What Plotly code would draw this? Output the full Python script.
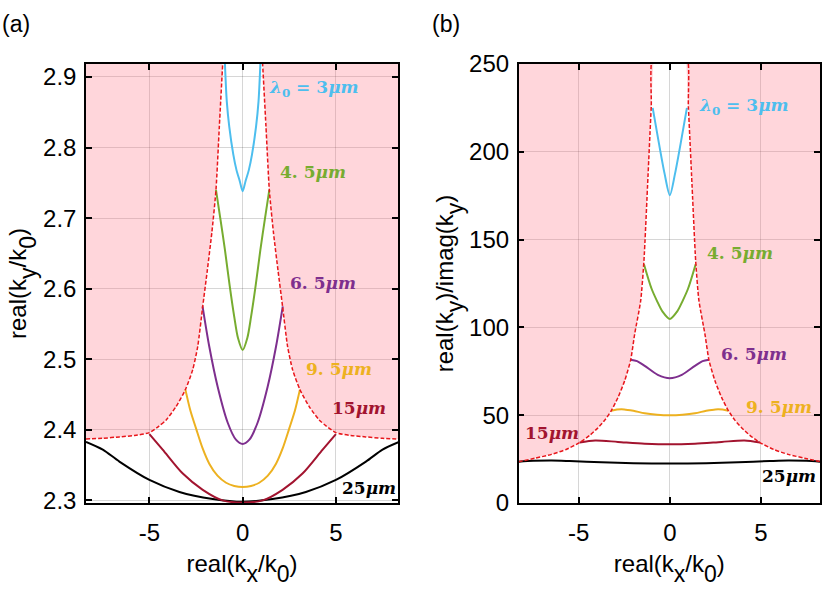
import plotly.graph_objects as go

# ---------------- Panel (a) data: real(ky/k0) vs real(kx/k0) ----------------
a_bnd_x = [-8.4, -7.5, -6.6, -5.8, -5.0, -4.5, -4.1, -3.57, -3.07, -2.68, -2.41, -2.14, -1.9, -1.65, -1.43, -1.25, -1.07, -0.98,
           0.98, 1.07, 1.25, 1.43, 1.65, 1.9, 2.14, 2.41, 2.68, 3.07, 3.57, 4.1, 4.5, 5.0, 5.8, 6.6, 7.5, 8.4]
a_bnd_y = [2.387, 2.388, 2.390, 2.392, 2.396, 2.405, 2.414, 2.433, 2.457, 2.485, 2.518, 2.575, 2.625, 2.68, 2.74, 2.83, 2.919, 2.965,
           2.965, 2.919, 2.83, 2.74, 2.68, 2.625, 2.575, 2.518, 2.485, 2.457, 2.433, 2.414, 2.405, 2.396, 2.392, 2.390, 2.388, 2.387]

a_3_x = [-0.96, -0.85, -0.72, -0.5, -0.33, -0.15, 0.0, 0.15, 0.33, 0.5, 0.72, 0.85, 0.96]
a_3_y = [2.925, 2.865, 2.83, 2.79, 2.768, 2.752, 2.738, 2.752, 2.768, 2.79, 2.83, 2.865, 2.925]

a_45_x = [-1.43, -1.2, -0.95, -0.7, -0.45, -0.25, 0.0, 0.25, 0.45, 0.7, 0.95, 1.2, 1.43]
a_45_y = [2.74, 2.70, 2.655, 2.605, 2.56, 2.53, 2.513, 2.53, 2.56, 2.605, 2.655, 2.70, 2.74]

a_65_x = [-2.15, -1.79, -1.34, -0.8, -0.36, 0.0, 0.36, 0.8, 1.34, 1.79, 2.15]
a_65_y = [2.575, 2.518, 2.461, 2.41, 2.386, 2.38, 2.386, 2.41, 2.461, 2.518, 2.575]

a_95_x = [-3.07, -2.8, -2.5, -2.15, -1.79, -1.35, -0.89, -0.45, 0.0, 0.45, 0.89, 1.35, 1.79, 2.15, 2.5, 2.8, 3.07]
a_95_y = [2.457, 2.427, 2.402, 2.374, 2.352, 2.335, 2.325, 2.3205, 2.319, 2.3205, 2.325, 2.335, 2.352, 2.374, 2.402, 2.427, 2.457]

a_15_x = [-5.0, -4.29, -3.21, -2.14, -1.07, 0.0, 1.07, 2.14, 3.21, 4.29, 5.0]
a_15_y = [2.394, 2.372, 2.338, 2.315, 2.30, 2.297, 2.30, 2.315, 2.338, 2.372, 2.394]

a_25_x = [-8.4, -7.5, -6.61, -5.0, -3.39, -1.6, 0.0, 1.6, 3.39, 5.0, 6.61, 7.5, 8.4]
a_25_y = [2.383, 2.372, 2.355, 2.329, 2.312, 2.302, 2.298, 2.302, 2.312, 2.329, 2.355, 2.372, 2.383]

# ---------------- Panel (b) data: real(ky)/imag(ky) vs real(kx/k0) ----------------
b_bnd_x = [-8.3, -7.4, -6.5, -5.7, -4.95, -4.4, -3.94, -3.55, -3.22, -2.85, -2.48, -2.15, -1.93, -1.6, -1.42, -1.2, -1.02, -0.88,
           0.88, 1.02, 1.2, 1.42, 1.6, 1.93, 2.15, 2.48, 2.85, 3.22, 3.55, 3.94, 4.4, 4.95, 5.7, 6.5, 7.4, 8.3]
b_bnd_y = [23.5, 25.5, 27.7, 30.5, 34.4, 38.5, 42.9, 47.5, 52.5, 60.0, 69.6, 81.4, 96.2, 115.2, 138.0, 185.7, 225.7, 256.0,
           256.0, 225.7, 185.7, 138.0, 115.2, 96.2, 81.4, 69.6, 60.0, 52.5, 47.5, 42.9, 38.5, 34.4, 30.5, 27.7, 25.5, 23.5]

b_3_x = [-0.94, -0.66, -0.29, 0.0, 0.29, 0.66, 0.94]
b_3_y = [225.0, 208.5, 187.7, 175.3, 187.7, 208.5, 225.0]

b_45_x = [-1.42, -1.0, -0.7, -0.4, 0.0, 0.4, 0.7, 1.0, 1.42]
b_45_y = [136.0, 122.0, 115.0, 109.0, 104.8, 109.0, 115.0, 122.0, 136.0]

b_65_x = [-2.15, -1.8, -1.38, -0.66, 0.0, 0.66, 1.38, 1.8, 2.15]
b_65_y = [81.6, 80.8, 78.1, 73.0, 71.1, 73.0, 78.1, 80.8, 81.6]

b_95_x = [-3.22, -2.9, -2.5, -2.0, -1.38, -0.7, 0.0, 0.7, 1.38, 2.0, 2.5, 2.9, 3.22]
b_95_y = [52.5, 53.2, 53.3, 52.5, 51.1, 50.3, 50.0, 50.3, 51.1, 52.5, 53.3, 53.2, 52.5]

b_15_x = [-4.95, -4.1, -2.85, -1.38, 0.0, 1.38, 2.85, 4.1, 4.95]
b_15_y = [34.5, 35.6, 34.8, 33.8, 33.4, 33.8, 34.8, 35.6, 34.5]

b_25_x = [-8.3, -7.5, -6.5, -5.5, -3.75, -2.0, 0.0, 2.0, 3.75, 5.5, 6.5, 7.5, 8.3]
b_25_y = [23.5, 24.0, 24.2, 23.9, 23.2, 22.7, 22.5, 22.7, 23.2, 23.9, 24.2, 24.0, 23.5]

# labels: (text, x, y, colour)
C_BLUE, C_GREEN, C_PURPLE, C_YELLOW, C_RED, C_BLACK = "#4DBEEE", "#77AC30", "#7E2F8E", "#EDB120", "#A2142F", "#000000"
lab_3 = "<i>λ</i><sub>0</sub> = 3<i>μm</i>"
lab_45 = "4. 5<i>μm</i>"
lab_65 = "6. 5<i>μm</i>"
lab_95 = "9. 5<i>μm</i>"
lab_15 = "15<i>μm</i>"
lab_25 = "25<i>μm</i>"

a_labels = [(lab_3, 1.3, 2.883, C_BLUE), (lab_45, 1.89, 2.765, C_GREEN), (lab_65, 2.43, 2.608, C_PURPLE),
            (lab_95, 3.28, 2.486, C_YELLOW), (lab_15, 4.67, 2.431, C_RED), (lab_25, 5.24, 2.318, C_BLACK)]
b_labels = [(lab_3, 1.5, 226, C_BLUE), (lab_45, 1.96, 142.3, C_GREEN), (lab_65, 2.69, 85, C_PURPLE),
            (lab_95, 4.07, 54.4, C_YELLOW), (lab_15, -8.08, 39.6, C_RED), (lab_25, 4.98, 15.4, C_BLACK)]

a_xrange = [-8.4, 8.33]
a_yrange = [2.2963, 2.9184]
b_xrange = [-8.3, 8.25]
b_yrange = [0, 250]

PINK = "rgba(255,120,135,0.30)"
DASH_RED = "#E8161B"

fig = go.Figure()


def add_panel(xa, ya, bx, by, curves, xr):
    # pink forbidden region above the boundary
    cap = max(by)
    fig.add_trace(go.Scatter(x=[xr[0] - 0.5] + [xr[0] - 0.5] + bx + [xr[1] + 0.5, xr[1] + 0.5],
                             y=[cap, by[0]] + by + [by[-1], cap],
                             mode="lines", fill="toself", fillcolor=PINK, line=dict(width=0),
                             hoverinfo="skip", showlegend=False, xaxis=xa, yaxis=ya))
    for cx, cy, col in curves:
        fig.add_trace(go.Scatter(x=cx, y=cy, mode="lines", line=dict(color=col, width=2, shape="spline", smoothing=0.8),
                                 showlegend=False, xaxis=xa, yaxis=ya))
    fig.add_trace(go.Scatter(x=bx, y=by, mode="lines",
                             line=dict(color=DASH_RED, width=1.5, dash="4px,2px", shape="spline", smoothing=0.6),
                             showlegend=False, xaxis=xa, yaxis=ya))


add_panel("x", "y", a_bnd_x, a_bnd_y,
          [(a_3_x, a_3_y, C_BLUE), (a_45_x, a_45_y, C_GREEN), (a_65_x, a_65_y, C_PURPLE),
           (a_95_x, a_95_y, C_YELLOW), (a_25_x, a_25_y, C_BLACK), (a_15_x, a_15_y, C_RED)], a_xrange)
add_panel("x2", "y2", b_bnd_x, b_bnd_y,
          [(b_3_x, b_3_y, C_BLUE), (b_45_x, b_45_y, C_GREEN), (b_65_x, b_65_y, C_PURPLE),
           (b_95_x, b_95_y, C_YELLOW), (b_25_x, b_25_y, C_BLACK), (b_15_x, b_15_y, C_RED)], b_xrange)

LAB_FONT = dict(family="DejaVu Serif", size=17)
annotations = []
for txt, x, y, col in a_labels:
    annotations.append(dict(text="<b>" + txt + "</b>", x=x, y=y, xref="x", yref="y", xanchor="left", yanchor="middle",
                            showarrow=False, font=dict(LAB_FONT, color=col)))
for txt, x, y, col in b_labels:
    annotations.append(dict(text="<b>" + txt + "</b>", x=x, y=y, xref="x2", yref="y2", xanchor="left", yanchor="middle",
                            showarrow=False, font=dict(LAB_FONT, color=col)))
H = 589
TAG_FONT = dict(family="Liberation Sans", size=23, color="black")
annotations.append(dict(text="(a)", x=0.0, y=1 - 24 / H, xref="paper", yref="paper", xanchor="left", yanchor="middle",
                        showarrow=False, font=TAG_FONT))
annotations.append(dict(text="(b)", x=0.522, y=1 - 24 / H, xref="paper", yref="paper", xanchor="left", yanchor="middle",
                        showarrow=False, font=TAG_FONT))

SUBSZ = "font-size:23px;baseline-shift:-5px"


def sub(s):
    return "<sub><span style='" + SUBSZ + "'>" + s + "</span></sub>"


kx_title = "real(k" + sub("x") + "/k" + sub("0") + ")"
ky_title = "real(k" + sub("y") + "/k" + sub("0") + ")"
kb_title = "real(k" + sub("y") + ")/imag(k" + sub("y") + ")"

axis_common = dict(showline=True, linecolor="black", linewidth=1.5, mirror="allticks", ticks="inside", ticklen=6,
                   tickwidth=1.5, tickcolor="black", showgrid=True, gridcolor="rgba(0,0,0,0.16)", gridwidth=1,
                   zeroline=False, automargin=False,
                   tickfont=dict(family="Liberation Sans", size=24, color="black"),
                   title_font=dict(family="Liberation Sans", size=24, color="black"))

fig.update_layout(
    width=824, height=589, margin=dict(l=0, r=0, t=0, b=0, autoexpand=False),
    paper_bgcolor="white", plot_bgcolor="white",
    xaxis=dict(domain=[86 / 824, 398 / 824], range=a_xrange, tickvals=[-5, 0, 5], ticktext=["-5", "0", "5"],
               ticklabelstandoff=7, title=dict(text=kx_title, standoff=11), anchor="y", **axis_common),
    yaxis=dict(domain=[86 / 589, 525 / 589], range=a_yrange, tickvals=[2.3, 2.4, 2.5, 2.6, 2.7, 2.8, 2.9],
               ticktext=["2.3", "2.4", "2.5", "2.6", "2.7", "2.8", "2.9"], ticklabelstandoff=3,
               title=dict(text=ky_title, standoff=10), anchor="x", **axis_common),
    xaxis2=dict(domain=[518.7 / 824, 820 / 824], range=b_xrange, tickvals=[-5, 0, 5], ticktext=["-5", "0", "5"],
                ticklabelstandoff=7, title=dict(text=kx_title, standoff=11), anchor="y2", **axis_common),
    yaxis2=dict(domain=[86 / 589, 525 / 589], range=b_yrange, tickvals=[0, 50, 100, 150, 200, 250],
                ticktext=["0", "50", "100", "150", "200", "250"], ticklabelstandoff=3,
                title=dict(text=kb_title, standoff=9), anchor="x2", **axis_common),
    annotations=annotations,
)

fig.write_html("out.html")
